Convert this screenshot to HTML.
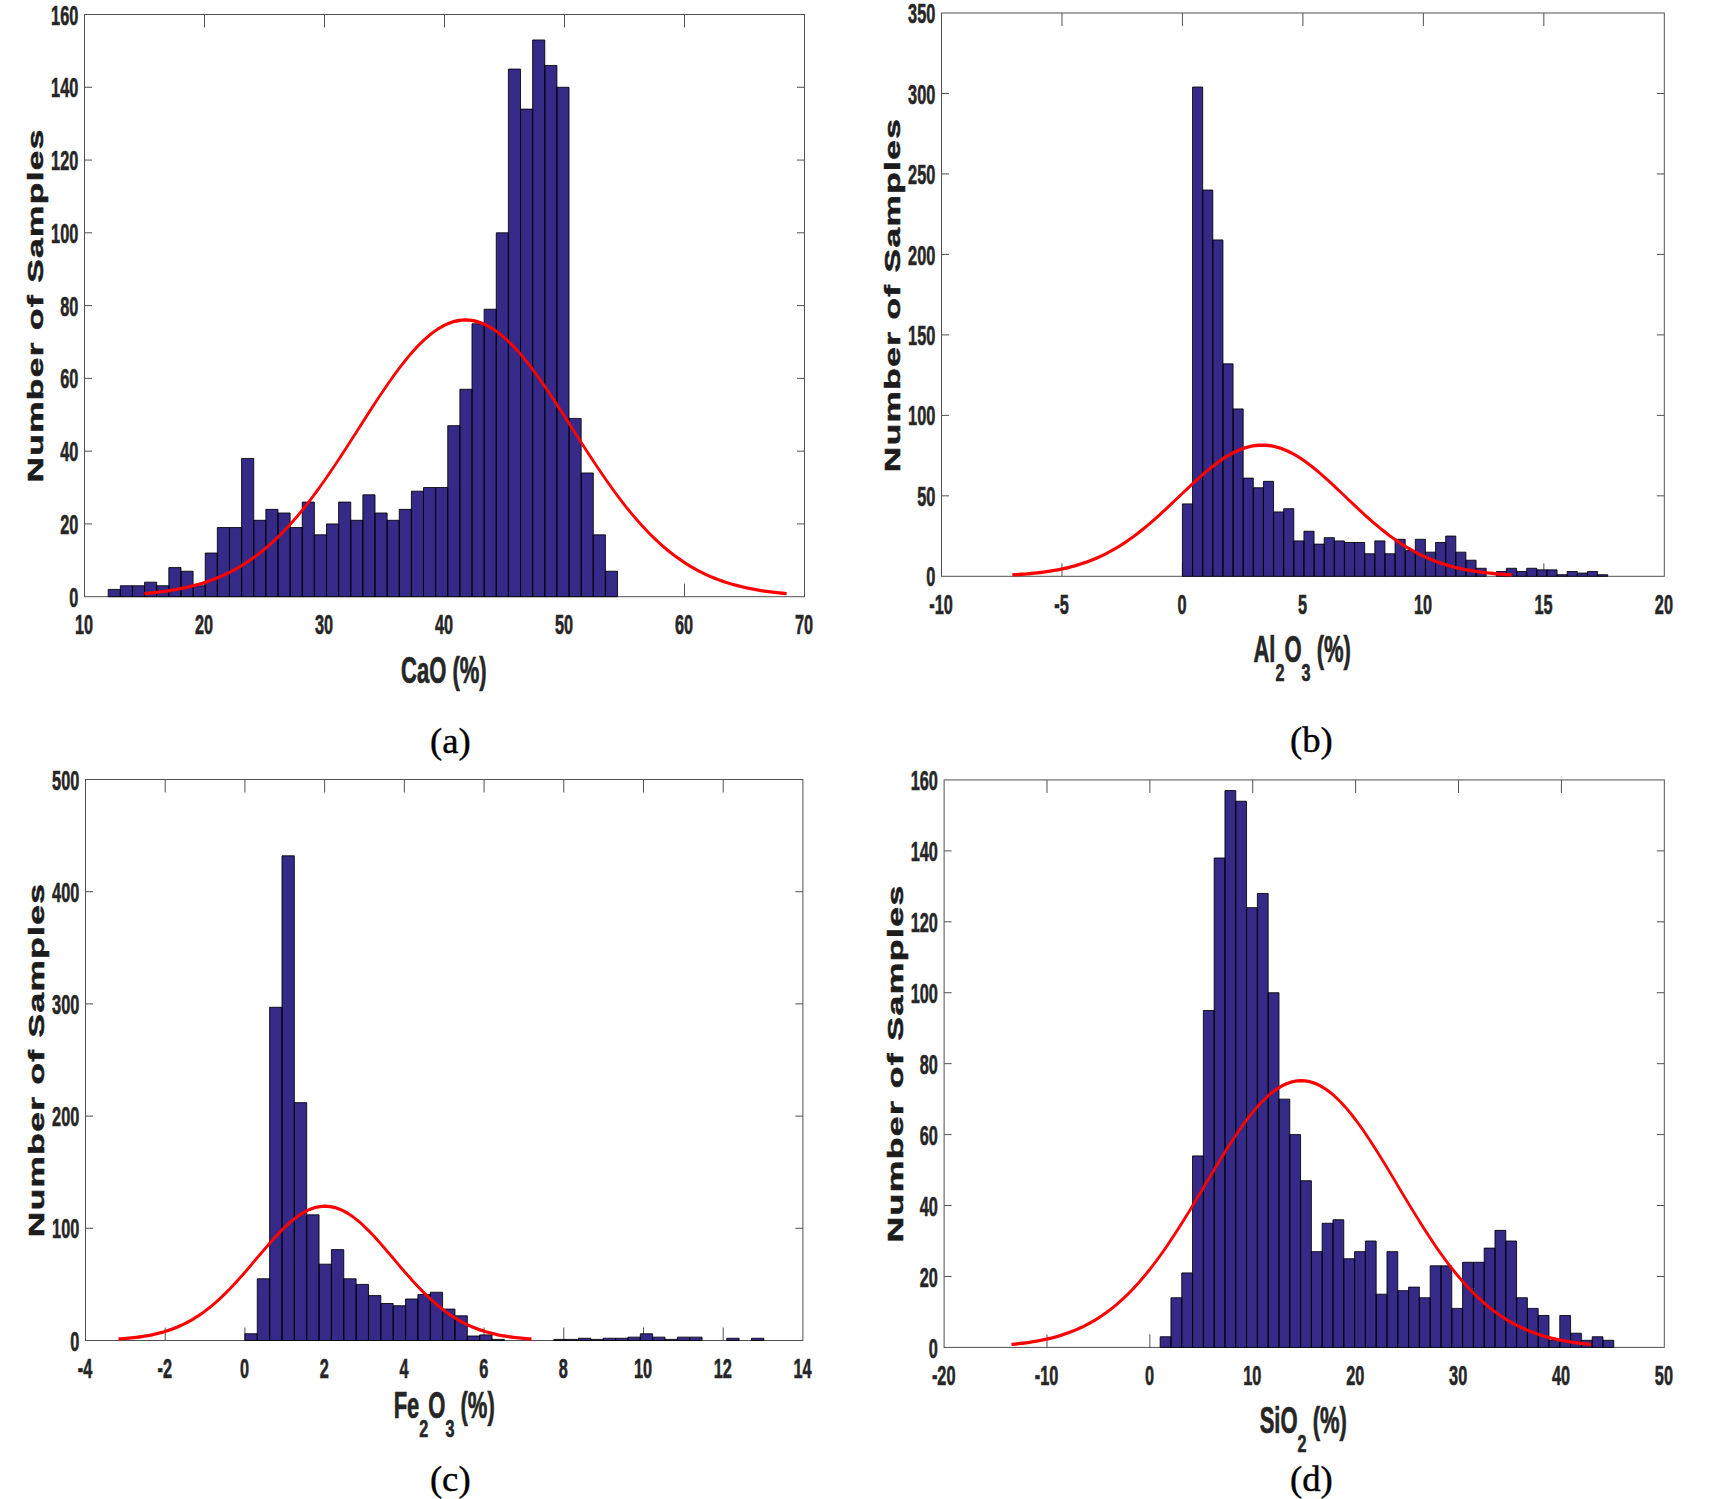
<!DOCTYPE html>
<html lang="en">
<head>
<meta charset="utf-8">
<title>Histograms of CaO, Al2O3, Fe2O3 and SiO2</title>
<style>
html,body{margin:0;padding:0;background:#fff;}
body{width:1720px;height:1499px;overflow:hidden;}
svg{display:block;}
text{font-family:"Liberation Sans",Arial,Helvetica,sans-serif;font-weight:bold;fill:#262626;}
.tk{stroke:#262626;stroke-width:0.5px;vector-effect:non-scaling-stroke;}
.xl{stroke:#262626;stroke-width:0.6px;vector-effect:non-scaling-stroke;}
.yl{stroke:#1c1c1c;stroke-width:0.7px;vector-effect:non-scaling-stroke;}
.tk{font-size:16.3px;}
.xl{font-size:22.0px;}
.sub{font-size:16.2px;stroke:#262626;stroke-width:0.5px;vector-effect:non-scaling-stroke;}
.yl{font-size:22.3px;fill:#1c1c1c;letter-spacing:0.88px;}
.cap{font-family:"Liberation Serif","Times New Roman",Times,serif;font-weight:normal;font-size:36.7px;fill:#000;stroke:#000;stroke-width:0.4px;}
</style>
</head>
<body>
<svg width="1720" height="1499" viewBox="0 0 1720 1499">
<rect width="1720" height="1499" fill="#fff"/>
<g id="panel-a">
<path d="M204.5 596.7v-13M204.5 14.5v13M324.5 596.7v-13M324.5 14.5v13M444.5 596.7v-13M444.5 14.5v13M564.5 596.7v-13M564.5 14.5v13M684.5 596.7v-13M684.5 14.5v13M84.5 523.93h7.5M804.5 523.93h-7.5M84.5 451.15h7.5M804.5 451.15h-7.5M84.5 378.38h7.5M804.5 378.38h-7.5M84.5 305.6h7.5M804.5 305.6h-7.5M84.5 232.82h7.5M804.5 232.82h-7.5M84.5 160.05h7.5M804.5 160.05h-7.5M84.5 87.27h7.5M804.5 87.27h-7.5" stroke="#505050" stroke-width="1" fill="none"/>
<rect x="84.5" y="14.5" width="720" height="582.2" fill="none" stroke="#505050" stroke-width="1"/>
<path d="M108.2 596.7V589.42H120.33V596.7ZM120.33 596.7V585.78H132.45V596.7ZM132.45 596.7V585.78H144.58V596.7ZM144.58 596.7V582.15H156.71V596.7ZM156.71 596.7V585.78H168.84V596.7ZM168.84 596.7V567.59H180.96V596.7ZM180.96 596.7V571.23H193.09V596.7ZM193.09 596.7V585.78H205.22V596.7ZM205.22 596.7V553.04H217.34V596.7ZM217.34 596.7V527.56H229.47V596.7ZM229.47 596.7V527.56H241.6V596.7ZM241.6 596.7V458.43H253.73V596.7ZM253.73 596.7V520.29H265.85V596.7ZM265.85 596.7V509.37H277.98V596.7ZM277.98 596.7V513.01H290.11V596.7ZM290.11 596.7V527.56H302.23V596.7ZM302.23 596.7V502.09H314.36V596.7ZM314.36 596.7V534.84H326.49V596.7ZM326.49 596.7V523.93H338.62V596.7ZM338.62 596.7V502.09H350.74V596.7ZM350.74 596.7V520.29H362.87V596.7ZM362.87 596.7V494.82H375V596.7ZM375 596.7V513.01H387.12V596.7ZM387.12 596.7V520.29H399.25V596.7ZM399.25 596.7V509.37H411.38V596.7ZM411.38 596.7V491.18H423.51V596.7ZM423.51 596.7V487.54H435.63V596.7ZM435.63 596.7V487.54H447.76V596.7ZM447.76 596.7V425.68H459.89V596.7ZM459.89 596.7V389.29H472.01V596.7ZM472.01 596.7V323.79H484.14V596.7ZM484.14 596.7V309.24H496.27V596.7ZM496.27 596.7V232.82H508.4V596.7ZM508.4 596.7V69.08H520.52V596.7ZM520.52 596.7V109.11H532.65V596.7ZM532.65 596.7V39.97H544.78V596.7ZM544.78 596.7V65.44H556.9V596.7ZM556.9 596.7V87.27H569.03V596.7ZM569.03 596.7V418.4H581.16V596.7ZM581.16 596.7V472.98H593.29V596.7ZM593.29 596.7V534.84H605.41V596.7ZM605.41 596.7V571.23H617.54V596.7Z" fill="#352a87" stroke="#000" stroke-width="0.85" stroke-linejoin="miter"/>
<polyline transform="scale(1,1.3)" points="144.38,456.635 148.39,456.356 152.41,456.047 156.42,455.707 160.44,455.333 164.45,454.922 168.46,454.472 172.48,453.979 176.49,453.440 180.51,452.851 184.52,452.211 188.53,451.514 192.55,450.757 196.56,449.936 200.58,449.047 204.59,448.087 208.6,447.051 212.62,445.935 216.63,444.734 220.65,443.446 224.66,442.064 228.67,440.586 232.69,439.008 236.7,437.324 240.72,435.531 244.73,433.626 248.74,431.605 252.76,429.465 256.77,427.202 260.79,424.813 264.8,422.297 268.81,419.651 272.83,416.874 276.84,413.964 280.86,410.921 284.87,407.744 288.88,404.434 292.9,400.992 296.91,397.419 300.93,393.718 304.94,389.892 308.95,385.945 312.97,381.881 316.98,377.705 321,373.423 325.01,369.042 329.02,364.570 333.04,360.015 337.05,355.387 341.07,350.694 345.08,345.947 349.09,341.159 353.11,336.340 357.12,331.504 361.14,326.663 365.15,321.831 369.16,317.023 373.18,312.252 377.19,307.535 381.21,302.886 385.22,298.320 389.23,293.853 393.25,289.500 397.26,285.277 401.28,281.199 405.29,277.281 409.3,273.537 413.32,269.983 417.33,266.631 421.35,263.494 425.36,260.586 429.37,257.918 433.39,255.500 437.4,253.342 441.42,251.454 445.43,249.842 449.44,248.514 453.46,247.476 457.47,246.731 461.49,246.283 465.5,246.133 469.51,246.283 473.53,246.731 477.54,247.476 481.56,248.514 485.57,249.842 489.58,251.454 493.6,253.342 497.61,255.500 501.63,257.918 505.64,260.586 509.65,263.494 513.67,266.631 517.68,269.983 521.7,273.537 525.71,277.281 529.72,281.199 533.74,285.277 537.75,289.500 541.77,293.853 545.78,298.320 549.79,302.886 553.81,307.535 557.82,312.252 561.84,317.023 565.85,321.831 569.86,326.663 573.88,331.504 577.89,336.340 581.91,341.159 585.92,345.947 589.93,350.694 593.95,355.387 597.96,360.015 601.98,364.570 605.99,369.042 610,373.423 614.02,377.705 618.03,381.881 622.05,385.945 626.06,389.892 630.07,393.718 634.09,397.419 638.1,400.992 642.12,404.434 646.13,407.744 650.14,410.921 654.16,413.964 658.17,416.874 662.19,419.651 666.2,422.297 670.21,424.813 674.23,427.202 678.24,429.465 682.26,431.605 686.27,433.626 690.28,435.531 694.3,437.324 698.31,439.008 702.33,440.586 706.34,442.064 710.35,443.446 714.37,444.734 718.38,445.935 722.4,447.051 726.41,448.087 730.42,449.047 734.44,449.936 738.45,450.757 742.47,451.514 746.48,452.211 750.49,452.851 754.51,453.440 758.52,453.979 762.54,454.472 766.55,454.922 770.56,455.333 774.58,455.707 778.59,456.047 782.61,456.356 786.62,456.635" fill="none" stroke="#ff0000" stroke-width="2.55" stroke-linejoin="round"/>
<text class="tk" text-anchor="middle" transform="translate(84.1,633.9) scale(1,1.68)">10</text>
<text class="tk" text-anchor="middle" transform="translate(204.1,633.9) scale(1,1.68)">20</text>
<text class="tk" text-anchor="middle" transform="translate(324.1,633.9) scale(1,1.68)">30</text>
<text class="tk" text-anchor="middle" transform="translate(444.1,633.9) scale(1,1.68)">40</text>
<text class="tk" text-anchor="middle" transform="translate(564.1,633.9) scale(1,1.68)">50</text>
<text class="tk" text-anchor="middle" transform="translate(684.1,633.9) scale(1,1.68)">60</text>
<text class="tk" text-anchor="middle" transform="translate(804.1,633.9) scale(1,1.68)">70</text>
<text class="tk" text-anchor="end" transform="translate(78.3,606.8) scale(1,1.68)">0</text>
<text class="tk" text-anchor="end" transform="translate(78.3,534.03) scale(1,1.68)">20</text>
<text class="tk" text-anchor="end" transform="translate(78.3,461.25) scale(1,1.68)">40</text>
<text class="tk" text-anchor="end" transform="translate(78.3,388.48) scale(1,1.68)">60</text>
<text class="tk" text-anchor="end" transform="translate(78.3,315.7) scale(1,1.68)">80</text>
<text class="tk" text-anchor="end" transform="translate(78.3,242.92) scale(1,1.68)">100</text>
<text class="tk" text-anchor="end" transform="translate(78.3,170.15) scale(1,1.68)">120</text>
<text class="tk" text-anchor="end" transform="translate(78.3,97.37) scale(1,1.68)">140</text>
<text class="tk" text-anchor="end" transform="translate(78.3,24.6) scale(1,1.68)">160</text>
<text class="xl" transform="translate(401.12,682.5) scale(1,1.68)">CaO&#160;(%)</text>
<text class="yl" text-anchor="middle" transform="translate(42.7,305.4) rotate(-90) scale(1.58,1)">Number of Samples</text>
<text class="cap" text-anchor="middle" x="450.4" y="752.5">(a)</text>
</g>
<g id="panel-b">
<path d="M1061.97 576.3v-13M1061.97 13v13M1182.43 576.3v-13M1182.43 13v13M1302.9 576.3v-13M1302.9 13v13M1423.37 576.3v-13M1423.37 13v13M1543.83 576.3v-13M1543.83 13v13M941.5 495.83h7.5M1664.3 495.83h-7.5M941.5 415.36h7.5M1664.3 415.36h-7.5M941.5 334.89h7.5M1664.3 334.89h-7.5M941.5 254.41h7.5M1664.3 254.41h-7.5M941.5 173.94h7.5M1664.3 173.94h-7.5M941.5 93.47h7.5M1664.3 93.47h-7.5" stroke="#505050" stroke-width="1" fill="none"/>
<rect x="941.5" y="13" width="722.8" height="563.3" fill="none" stroke="#505050" stroke-width="1"/>
<path d="M1182.43 576.3V503.88H1192.56V576.3ZM1192.56 576.3V87.03H1202.68V576.3ZM1202.68 576.3V190.04H1212.81V576.3ZM1212.81 576.3V239.93H1222.93V576.3ZM1222.93 576.3V363.86H1233.06V576.3ZM1233.06 576.3V408.92H1243.18V576.3ZM1243.18 576.3V478.12H1253.31V576.3ZM1253.31 576.3V487.78H1263.43V576.3ZM1263.43 576.3V481.34H1273.56V576.3ZM1273.56 576.3V511.92H1283.68V576.3ZM1283.68 576.3V508.7H1293.81V576.3ZM1293.81 576.3V540.89H1303.93V576.3ZM1303.93 576.3V531.24H1314.06V576.3ZM1314.06 576.3V544.11H1324.18V576.3ZM1324.18 576.3V537.67H1334.31V576.3ZM1334.31 576.3V540.89H1344.43V576.3ZM1344.43 576.3V542.5H1354.56V576.3ZM1354.56 576.3V542.5H1364.68V576.3ZM1364.68 576.3V553.77H1374.81V576.3ZM1374.81 576.3V540.89H1384.93V576.3ZM1384.93 576.3V553.77H1395.06V576.3ZM1395.06 576.3V539.28H1405.18V576.3ZM1405.18 576.3V550.55H1415.31V576.3ZM1415.31 576.3V539.28H1425.43V576.3ZM1425.43 576.3V552.16H1435.56V576.3ZM1435.56 576.3V542.5H1445.68V576.3ZM1445.68 576.3V536.06H1455.81V576.3ZM1455.81 576.3V552.16H1465.93V576.3ZM1465.93 576.3V560.21H1476.06V576.3ZM1476.06 576.3V568.25H1486.18V576.3ZM1496.31 576.3V571.47H1506.43V576.3ZM1506.43 576.3V568.25H1516.56V576.3ZM1516.56 576.3V571.47H1526.68V576.3ZM1526.68 576.3V568.25H1536.81V576.3ZM1536.81 576.3V569.86H1546.93V576.3ZM1546.93 576.3V569.86H1557.06V576.3ZM1557.06 576.3V574.69H1567.18V576.3ZM1567.18 576.3V571.47H1577.31V576.3ZM1577.31 576.3V573.08H1587.43V576.3ZM1587.43 576.3V571.47H1597.56V576.3ZM1597.56 576.3V574.69H1607.68V576.3Z" fill="#352a87" stroke="#000" stroke-width="0.85" stroke-linejoin="miter"/>
<polyline transform="scale(1,1.3)" points="1012.31,442.187 1015.43,442.054 1018.56,441.908 1021.68,441.747 1024.8,441.569 1027.93,441.375 1031.05,441.161 1034.17,440.928 1037.3,440.672 1040.42,440.393 1043.54,440.090 1046.67,439.759 1049.79,439.400 1052.91,439.011 1056.04,438.590 1059.16,438.135 1062.28,437.644 1065.41,437.115 1068.53,436.546 1071.65,435.935 1074.78,435.280 1077.9,434.580 1081.03,433.831 1084.15,433.033 1087.27,432.184 1090.4,431.281 1093.52,430.323 1096.64,429.308 1099.77,428.235 1102.89,427.103 1106.01,425.911 1109.14,424.656 1112.26,423.340 1115.38,421.961 1118.51,420.518 1121.63,419.012 1124.75,417.443 1127.88,415.812 1131,414.118 1134.12,412.364 1137.25,410.551 1140.37,408.680 1143.49,406.753 1146.62,404.774 1149.74,402.744 1152.86,400.668 1155.99,398.548 1159.11,396.389 1162.23,394.195 1165.36,391.971 1168.48,389.721 1171.6,387.451 1174.73,385.167 1177.85,382.874 1180.97,380.580 1184.1,378.290 1187.22,376.011 1190.34,373.749 1193.47,371.513 1196.59,369.310 1199.71,367.145 1202.84,365.028 1205.96,362.965 1209.08,360.963 1212.21,359.030 1215.33,357.173 1218.45,355.398 1221.58,353.714 1224.7,352.125 1227.82,350.638 1230.95,349.260 1234.07,347.995 1237.2,346.849 1240.32,345.826 1243.44,344.931 1246.57,344.167 1249.69,343.538 1252.81,343.045 1255.94,342.692 1259.06,342.480 1262.18,342.409 1265.31,342.480 1268.43,342.692 1271.55,343.045 1274.68,343.538 1277.8,344.167 1280.92,344.931 1284.05,345.826 1287.17,346.849 1290.29,347.995 1293.42,349.260 1296.54,350.638 1299.66,352.125 1302.79,353.714 1305.91,355.398 1309.03,357.173 1312.16,359.030 1315.28,360.963 1318.4,362.965 1321.53,365.028 1324.65,367.145 1327.77,369.310 1330.9,371.513 1334.02,373.749 1337.14,376.011 1340.27,378.290 1343.39,380.580 1346.51,382.874 1349.64,385.167 1352.76,387.451 1355.88,389.721 1359.01,391.971 1362.13,394.195 1365.25,396.389 1368.38,398.548 1371.5,400.668 1374.62,402.744 1377.75,404.774 1380.87,406.753 1383.99,408.680 1387.12,410.551 1390.24,412.364 1393.37,414.118 1396.49,415.812 1399.61,417.443 1402.74,419.012 1405.86,420.518 1408.98,421.961 1412.11,423.340 1415.23,424.656 1418.35,425.911 1421.48,427.103 1424.6,428.235 1427.72,429.308 1430.85,430.323 1433.97,431.281 1437.09,432.184 1440.22,433.033 1443.34,433.831 1446.46,434.580 1449.59,435.280 1452.71,435.935 1455.83,436.546 1458.96,437.115 1462.08,437.644 1465.2,438.135 1468.33,438.590 1471.45,439.011 1474.57,439.400 1477.7,439.759 1480.82,440.090 1483.94,440.393 1487.07,440.672 1490.19,440.928 1493.31,441.161 1496.44,441.375 1499.56,441.569 1502.68,441.747 1505.81,441.908 1508.93,442.054 1512.05,442.187" fill="none" stroke="#ff0000" stroke-width="2.55" stroke-linejoin="round"/>
<text class="tk" text-anchor="middle" transform="translate(941.1,613.5) scale(1,1.68)">-10</text>
<text class="tk" text-anchor="middle" transform="translate(1061.57,613.5) scale(1,1.68)">-5</text>
<text class="tk" text-anchor="middle" transform="translate(1182.03,613.5) scale(1,1.68)">0</text>
<text class="tk" text-anchor="middle" transform="translate(1302.5,613.5) scale(1,1.68)">5</text>
<text class="tk" text-anchor="middle" transform="translate(1422.97,613.5) scale(1,1.68)">10</text>
<text class="tk" text-anchor="middle" transform="translate(1543.43,613.5) scale(1,1.68)">15</text>
<text class="tk" text-anchor="middle" transform="translate(1663.9,613.5) scale(1,1.68)">20</text>
<text class="tk" text-anchor="end" transform="translate(935.3,586.4) scale(1,1.68)">0</text>
<text class="tk" text-anchor="end" transform="translate(935.3,505.93) scale(1,1.68)">50</text>
<text class="tk" text-anchor="end" transform="translate(935.3,425.46) scale(1,1.68)">100</text>
<text class="tk" text-anchor="end" transform="translate(935.3,344.99) scale(1,1.68)">150</text>
<text class="tk" text-anchor="end" transform="translate(935.3,264.51) scale(1,1.68)">200</text>
<text class="tk" text-anchor="end" transform="translate(935.3,184.04) scale(1,1.68)">250</text>
<text class="tk" text-anchor="end" transform="translate(935.3,103.57) scale(1,1.68)">300</text>
<text class="tk" text-anchor="end" transform="translate(935.3,23.1) scale(1,1.68)">350</text>
<text class="xl" transform="translate(1253.47,661.9) scale(1,1.68)">Al</text>
<text class="sub" transform="translate(1275.47,680.8) scale(1,1.43)">2</text>
<text class="xl" transform="translate(1284.48,661.9) scale(1,1.68)">O</text>
<text class="sub" transform="translate(1301.59,680.8) scale(1,1.43)">3</text>
<text class="xl" transform="translate(1310.6,661.9) scale(1,1.68)">&#160;(%)</text>
<text class="yl" text-anchor="middle" transform="translate(900,295) rotate(-90) scale(1.58,1)">Number of Samples</text>
<text class="cap" text-anchor="middle" x="1311.4" y="751.9">(b)</text>
</g>
<g id="panel-c">
<path d="M165.21 1340.5v-13M165.21 779.5v13M244.92 1340.5v-13M244.92 779.5v13M324.63 1340.5v-13M324.63 779.5v13M404.34 1340.5v-13M404.34 779.5v13M484.06 1340.5v-13M484.06 779.5v13M563.77 1340.5v-13M563.77 779.5v13M643.48 1340.5v-13M643.48 779.5v13M723.19 1340.5v-13M723.19 779.5v13M85.5 1228.3h7.5M802.9 1228.3h-7.5M85.5 1116.1h7.5M802.9 1116.1h-7.5M85.5 1003.9h7.5M802.9 1003.9h-7.5M85.5 891.7h7.5M802.9 891.7h-7.5" stroke="#505050" stroke-width="1" fill="none"/>
<rect x="85.5" y="779.5" width="717.4" height="561" fill="none" stroke="#505050" stroke-width="1"/>
<path d="M244.92 1340.5V1333.77H257.28V1340.5ZM257.28 1340.5V1278.79H269.63V1340.5ZM269.63 1340.5V1007.27H281.99V1340.5ZM281.99 1340.5V855.8H294.34V1340.5ZM294.34 1340.5V1102.64H306.7V1340.5ZM306.7 1340.5V1214.84H319.05V1340.5ZM319.05 1340.5V1264.2H331.41V1340.5ZM331.41 1340.5V1249.62H343.76V1340.5ZM343.76 1340.5V1278.79H356.12V1340.5ZM356.12 1340.5V1284.4H368.47V1340.5ZM368.47 1340.5V1295.62H380.83V1340.5ZM380.83 1340.5V1303.47H393.18V1340.5ZM393.18 1340.5V1305.72H405.54V1340.5ZM405.54 1340.5V1298.99H417.9V1340.5ZM417.9 1340.5V1294.5H430.25V1340.5ZM430.25 1340.5V1292.25H442.61V1340.5ZM442.61 1340.5V1309.08H454.96V1340.5ZM454.96 1340.5V1315.82H467.32V1340.5ZM467.32 1340.5V1336.01H479.67V1340.5ZM479.67 1340.5V1334.89H492.03V1340.5ZM492.03 1340.5V1339.38H504.38V1340.5ZM553.8 1340.5V1339.38H566.16V1340.5ZM566.16 1340.5V1339.38H578.51V1340.5ZM578.51 1340.5V1338.26H590.87V1340.5ZM590.87 1340.5V1339.38H603.22V1340.5ZM603.22 1340.5V1338.26H615.58V1340.5ZM615.58 1340.5V1338.26H627.93V1340.5ZM627.93 1340.5V1337.13H640.29V1340.5ZM640.29 1340.5V1333.77H652.64V1340.5ZM652.64 1340.5V1337.13H665V1340.5ZM665 1340.5V1339.38H677.36V1340.5ZM677.36 1340.5V1337.13H689.71V1340.5ZM689.71 1340.5V1337.13H702.07V1340.5ZM726.78 1340.5V1338.26H739.13V1340.5ZM751.49 1340.5V1338.26H763.84V1340.5Z" fill="#352a87" stroke="#000" stroke-width="0.85" stroke-linejoin="miter"/>
<polyline transform="scale(1,1.3)" points="118.5,1030.006 121.08,1029.870 123.66,1029.721 126.24,1029.556 128.82,1029.374 131.41,1029.175 133.99,1028.956 136.57,1028.717 139.15,1028.455 141.73,1028.170 144.31,1027.859 146.89,1027.520 149.47,1027.153 152.06,1026.755 154.64,1026.323 157.22,1025.857 159.8,1025.355 162.38,1024.813 164.96,1024.230 167.54,1023.605 170.12,1022.935 172.7,1022.217 175.29,1021.451 177.87,1020.634 180.45,1019.764 183.03,1018.839 185.61,1017.858 188.19,1016.819 190.77,1015.721 193.35,1014.562 195.93,1013.341 198.52,1012.057 201.1,1010.709 203.68,1009.297 206.26,1007.820 208.84,1006.278 211.42,1004.671 214,1003.001 216.58,1001.267 219.17,999.471 221.75,997.614 224.33,995.698 226.91,993.726 229.49,991.699 232.07,989.621 234.65,987.495 237.23,985.324 239.81,983.114 242.4,980.867 244.98,978.590 247.56,976.286 250.14,973.962 252.72,971.623 255.3,969.276 257.88,966.927 260.46,964.582 263.04,962.248 265.63,959.933 268.21,957.644 270.79,955.387 273.37,953.171 275.95,951.003 278.53,948.891 281.11,946.841 283.69,944.862 286.27,942.960 288.86,941.143 291.44,939.418 294.02,937.792 296.6,936.269 299.18,934.858 301.76,933.563 304.34,932.389 306.92,931.342 309.51,930.426 312.09,929.644 314.67,928.999 317.25,928.495 319.83,928.134 322.41,927.916 324.99,927.844 327.57,927.916 330.15,928.134 332.74,928.495 335.32,928.999 337.9,929.644 340.48,930.426 343.06,931.342 345.64,932.389 348.22,933.563 350.8,934.858 353.38,936.269 355.97,937.792 358.55,939.418 361.13,941.143 363.71,942.960 366.29,944.862 368.87,946.841 371.45,948.891 374.03,951.003 376.61,953.171 379.2,955.387 381.78,957.644 384.36,959.933 386.94,962.248 389.52,964.582 392.1,966.927 394.68,969.276 397.26,971.623 399.85,973.962 402.43,976.286 405.01,978.590 407.59,980.867 410.17,983.114 412.75,985.324 415.33,987.495 417.91,989.621 420.49,991.699 423.08,993.726 425.66,995.698 428.24,997.614 430.82,999.471 433.4,1001.267 435.98,1003.001 438.56,1004.671 441.14,1006.278 443.72,1007.820 446.31,1009.297 448.89,1010.709 451.47,1012.057 454.05,1013.341 456.63,1014.562 459.21,1015.721 461.79,1016.819 464.37,1017.858 466.96,1018.839 469.54,1019.764 472.12,1020.634 474.7,1021.451 477.28,1022.217 479.86,1022.935 482.44,1023.605 485.02,1024.230 487.6,1024.813 490.19,1025.355 492.77,1025.857 495.35,1026.323 497.93,1026.755 500.51,1027.153 503.09,1027.520 505.67,1027.859 508.25,1028.170 510.83,1028.455 513.42,1028.717 516,1028.956 518.58,1029.175 521.16,1029.374 523.74,1029.556 526.32,1029.721 528.9,1029.870 531.48,1030.006" fill="none" stroke="#ff0000" stroke-width="2.55" stroke-linejoin="round"/>
<text class="tk" text-anchor="middle" transform="translate(85.1,1377.7) scale(1,1.68)">-4</text>
<text class="tk" text-anchor="middle" transform="translate(164.81,1377.7) scale(1,1.68)">-2</text>
<text class="tk" text-anchor="middle" transform="translate(244.52,1377.7) scale(1,1.68)">0</text>
<text class="tk" text-anchor="middle" transform="translate(324.23,1377.7) scale(1,1.68)">2</text>
<text class="tk" text-anchor="middle" transform="translate(403.94,1377.7) scale(1,1.68)">4</text>
<text class="tk" text-anchor="middle" transform="translate(483.66,1377.7) scale(1,1.68)">6</text>
<text class="tk" text-anchor="middle" transform="translate(563.37,1377.7) scale(1,1.68)">8</text>
<text class="tk" text-anchor="middle" transform="translate(643.08,1377.7) scale(1,1.68)">10</text>
<text class="tk" text-anchor="middle" transform="translate(722.79,1377.7) scale(1,1.68)">12</text>
<text class="tk" text-anchor="middle" transform="translate(802.5,1377.7) scale(1,1.68)">14</text>
<text class="tk" text-anchor="end" transform="translate(79.3,1350.6) scale(1,1.68)">0</text>
<text class="tk" text-anchor="end" transform="translate(79.3,1238.4) scale(1,1.68)">100</text>
<text class="tk" text-anchor="end" transform="translate(79.3,1126.2) scale(1,1.68)">200</text>
<text class="tk" text-anchor="end" transform="translate(79.3,1014) scale(1,1.68)">300</text>
<text class="tk" text-anchor="end" transform="translate(79.3,901.8) scale(1,1.68)">400</text>
<text class="tk" text-anchor="end" transform="translate(79.3,789.6) scale(1,1.68)">500</text>
<text class="xl" transform="translate(393.63,1417.75) scale(1,1.68)">Fe</text>
<text class="sub" transform="translate(419.31,1436.65) scale(1,1.43)">2</text>
<text class="xl" transform="translate(428.32,1417.75) scale(1,1.68)">O</text>
<text class="sub" transform="translate(445.43,1436.65) scale(1,1.43)">3</text>
<text class="xl" transform="translate(454.44,1417.75) scale(1,1.68)">&#160;(%)</text>
<text class="yl" text-anchor="middle" transform="translate(44,1060) rotate(-90) scale(1.58,1)">Number of Samples</text>
<text class="cap" text-anchor="middle" x="450.25" y="1491">(c)</text>
</g>
<g id="panel-d">
<path d="M1046.99 1347.4v-13M1046.99 779.95v13M1149.87 1347.4v-13M1149.87 779.95v13M1252.76 1347.4v-13M1252.76 779.95v13M1355.64 1347.4v-13M1355.64 779.95v13M1458.53 1347.4v-13M1458.53 779.95v13M1561.41 1347.4v-13M1561.41 779.95v13M944.1 1276.47h7.5M1664.3 1276.47h-7.5M944.1 1205.54h7.5M1664.3 1205.54h-7.5M944.1 1134.61h7.5M1664.3 1134.61h-7.5M944.1 1063.68h7.5M1664.3 1063.68h-7.5M944.1 992.74h7.5M1664.3 992.74h-7.5M944.1 921.81h7.5M1664.3 921.81h-7.5M944.1 850.88h7.5M1664.3 850.88h-7.5" stroke="#505050" stroke-width="1" fill="none"/>
<rect x="944.1" y="779.95" width="720.2" height="567.45" fill="none" stroke="#505050" stroke-width="1"/>
<path d="M1160.16 1347.4V1336.76H1170.96V1347.4ZM1170.96 1347.4V1297.75H1181.76V1347.4ZM1181.76 1347.4V1272.92H1192.56V1347.4ZM1192.56 1347.4V1155.89H1203.36V1347.4ZM1203.36 1347.4V1010.48H1214.16V1347.4ZM1214.16 1347.4V857.97H1224.96V1347.4ZM1224.96 1347.4V790.59H1235.76V1347.4ZM1235.76 1347.4V801.23H1246.56V1347.4ZM1246.56 1347.4V907.63H1257.36V1347.4ZM1257.36 1347.4V893.44H1268.17V1347.4ZM1268.17 1347.4V992.74H1278.97V1347.4ZM1278.97 1347.4V1099.14H1289.77V1347.4ZM1289.77 1347.4V1134.61H1300.57V1347.4ZM1300.57 1347.4V1180.71H1311.37V1347.4ZM1311.37 1347.4V1251.64H1322.17V1347.4ZM1322.17 1347.4V1223.27H1332.97V1347.4ZM1332.97 1347.4V1219.72H1343.77V1347.4ZM1343.77 1347.4V1258.74H1354.57V1347.4ZM1354.57 1347.4V1251.64H1365.37V1347.4ZM1365.37 1347.4V1241H1376.17V1347.4ZM1376.17 1347.4V1294.2H1386.97V1347.4ZM1386.97 1347.4V1251.64H1397.77V1347.4ZM1397.77 1347.4V1290.66H1408.57V1347.4ZM1408.57 1347.4V1287.11H1419.37V1347.4ZM1419.37 1347.4V1297.75H1430.17V1347.4ZM1430.17 1347.4V1265.83H1440.97V1347.4ZM1440.97 1347.4V1265.83H1451.77V1347.4ZM1451.77 1347.4V1308.39H1462.58V1347.4ZM1462.58 1347.4V1262.28H1473.38V1347.4ZM1473.38 1347.4V1262.28H1484.18V1347.4ZM1484.18 1347.4V1248.1H1494.98V1347.4ZM1494.98 1347.4V1230.36H1505.78V1347.4ZM1505.78 1347.4V1241H1516.58V1347.4ZM1516.58 1347.4V1297.75H1527.38V1347.4ZM1527.38 1347.4V1308.39H1538.18V1347.4ZM1538.18 1347.4V1315.48H1548.98V1347.4ZM1548.98 1347.4V1340.31H1559.78V1347.4ZM1559.78 1347.4V1315.48H1570.58V1347.4ZM1570.58 1347.4V1333.21H1581.38V1347.4ZM1581.38 1347.4V1340.31H1592.18V1347.4ZM1592.18 1347.4V1336.76H1602.98V1347.4ZM1602.98 1347.4V1340.31H1613.78V1347.4Z" fill="#352a87" stroke="#000" stroke-width="0.85" stroke-linejoin="miter"/>
<polyline transform="scale(1,1.3)" points="1011.48,1034.182 1015.1,1033.913 1018.72,1033.615 1022.34,1033.288 1025.97,1032.927 1029.59,1032.531 1033.21,1032.097 1036.83,1031.622 1040.45,1031.103 1044.08,1030.536 1047.7,1029.918 1051.32,1029.246 1054.94,1028.517 1058.56,1027.726 1062.18,1026.869 1065.81,1025.944 1069.43,1024.945 1073.05,1023.870 1076.67,1022.713 1080.29,1021.471 1083.91,1020.140 1087.54,1018.715 1091.16,1017.193 1094.78,1015.571 1098.4,1013.843 1102.02,1012.007 1105.64,1010.059 1109.27,1007.996 1112.89,1005.815 1116.51,1003.513 1120.13,1001.088 1123.75,998.538 1127.37,995.862 1131,993.057 1134.62,990.124 1138.24,987.062 1141.86,983.872 1145.48,980.555 1149.1,977.111 1152.73,973.545 1156.35,969.857 1159.97,966.053 1163.59,962.136 1167.21,958.111 1170.83,953.985 1174.46,949.763 1178.08,945.453 1181.7,941.063 1185.32,936.602 1188.94,932.079 1192.57,927.505 1196.19,922.889 1199.81,918.245 1203.43,913.584 1207.05,908.919 1210.67,904.262 1214.3,899.628 1217.92,895.030 1221.54,890.484 1225.16,886.003 1228.78,881.602 1232.4,877.297 1236.03,873.102 1239.65,869.032 1243.27,865.102 1246.89,861.326 1250.51,857.718 1254.13,854.292 1257.76,851.062 1261.38,848.039 1265,845.236 1268.62,842.664 1272.24,840.334 1275.86,838.254 1279.49,836.434 1283.11,834.881 1286.73,833.602 1290.35,832.601 1293.97,831.883 1297.59,831.451 1301.22,831.307 1304.84,831.451 1308.46,831.883 1312.08,832.601 1315.7,833.602 1319.32,834.881 1322.95,836.434 1326.57,838.254 1330.19,840.334 1333.81,842.664 1337.43,845.236 1341.06,848.039 1344.68,851.062 1348.3,854.292 1351.92,857.718 1355.54,861.326 1359.16,865.102 1362.79,869.032 1366.41,873.102 1370.03,877.297 1373.65,881.602 1377.27,886.003 1380.89,890.484 1384.52,895.030 1388.14,899.628 1391.76,904.262 1395.38,908.919 1399,913.584 1402.62,918.245 1406.25,922.889 1409.87,927.505 1413.49,932.079 1417.11,936.602 1420.73,941.063 1424.35,945.453 1427.98,949.763 1431.6,953.985 1435.22,958.111 1438.84,962.136 1442.46,966.053 1446.08,969.857 1449.71,973.545 1453.33,977.111 1456.95,980.555 1460.57,983.872 1464.19,987.062 1467.81,990.124 1471.44,993.057 1475.06,995.862 1478.68,998.538 1482.3,1001.088 1485.92,1003.513 1489.55,1005.815 1493.17,1007.996 1496.79,1010.059 1500.41,1012.007 1504.03,1013.843 1507.65,1015.571 1511.28,1017.193 1514.9,1018.715 1518.52,1020.140 1522.14,1021.471 1525.76,1022.713 1529.38,1023.870 1533.01,1024.945 1536.63,1025.944 1540.25,1026.869 1543.87,1027.726 1547.49,1028.517 1551.11,1029.246 1554.74,1029.918 1558.36,1030.536 1561.98,1031.103 1565.6,1031.622 1569.22,1032.097 1572.84,1032.531 1576.47,1032.927 1580.09,1033.288 1583.71,1033.615 1587.33,1033.913 1590.95,1034.182" fill="none" stroke="#ff0000" stroke-width="2.55" stroke-linejoin="round"/>
<text class="tk" text-anchor="middle" transform="translate(943.7,1384.6) scale(1,1.68)">-20</text>
<text class="tk" text-anchor="middle" transform="translate(1046.59,1384.6) scale(1,1.68)">-10</text>
<text class="tk" text-anchor="middle" transform="translate(1149.47,1384.6) scale(1,1.68)">0</text>
<text class="tk" text-anchor="middle" transform="translate(1252.36,1384.6) scale(1,1.68)">10</text>
<text class="tk" text-anchor="middle" transform="translate(1355.24,1384.6) scale(1,1.68)">20</text>
<text class="tk" text-anchor="middle" transform="translate(1458.13,1384.6) scale(1,1.68)">30</text>
<text class="tk" text-anchor="middle" transform="translate(1561.01,1384.6) scale(1,1.68)">40</text>
<text class="tk" text-anchor="middle" transform="translate(1663.9,1384.6) scale(1,1.68)">50</text>
<text class="tk" text-anchor="end" transform="translate(937.9,1357.5) scale(1,1.68)">0</text>
<text class="tk" text-anchor="end" transform="translate(937.9,1286.57) scale(1,1.68)">20</text>
<text class="tk" text-anchor="end" transform="translate(937.9,1215.64) scale(1,1.68)">40</text>
<text class="tk" text-anchor="end" transform="translate(937.9,1144.71) scale(1,1.68)">60</text>
<text class="tk" text-anchor="end" transform="translate(937.9,1073.78) scale(1,1.68)">80</text>
<text class="tk" text-anchor="end" transform="translate(937.9,1002.84) scale(1,1.68)">100</text>
<text class="tk" text-anchor="end" transform="translate(937.9,931.91) scale(1,1.68)">120</text>
<text class="tk" text-anchor="end" transform="translate(937.9,860.98) scale(1,1.68)">140</text>
<text class="tk" text-anchor="end" transform="translate(937.9,790.05) scale(1,1.68)">160</text>
<text class="xl" transform="translate(1259.68,1433.1) scale(1,1.68)">SiO</text>
<text class="sub" transform="translate(1297.58,1452) scale(1,1.43)">2</text>
<text class="xl" transform="translate(1306.59,1433.1) scale(1,1.68)">&#160;(%)</text>
<text class="yl" text-anchor="middle" transform="translate(902.7,1063.5) rotate(-90) scale(1.597,1)">Number of Samples</text>
<text class="cap" text-anchor="middle" x="1311.4" y="1491">(d)</text>
</g>
</svg>
</body>
</html>
